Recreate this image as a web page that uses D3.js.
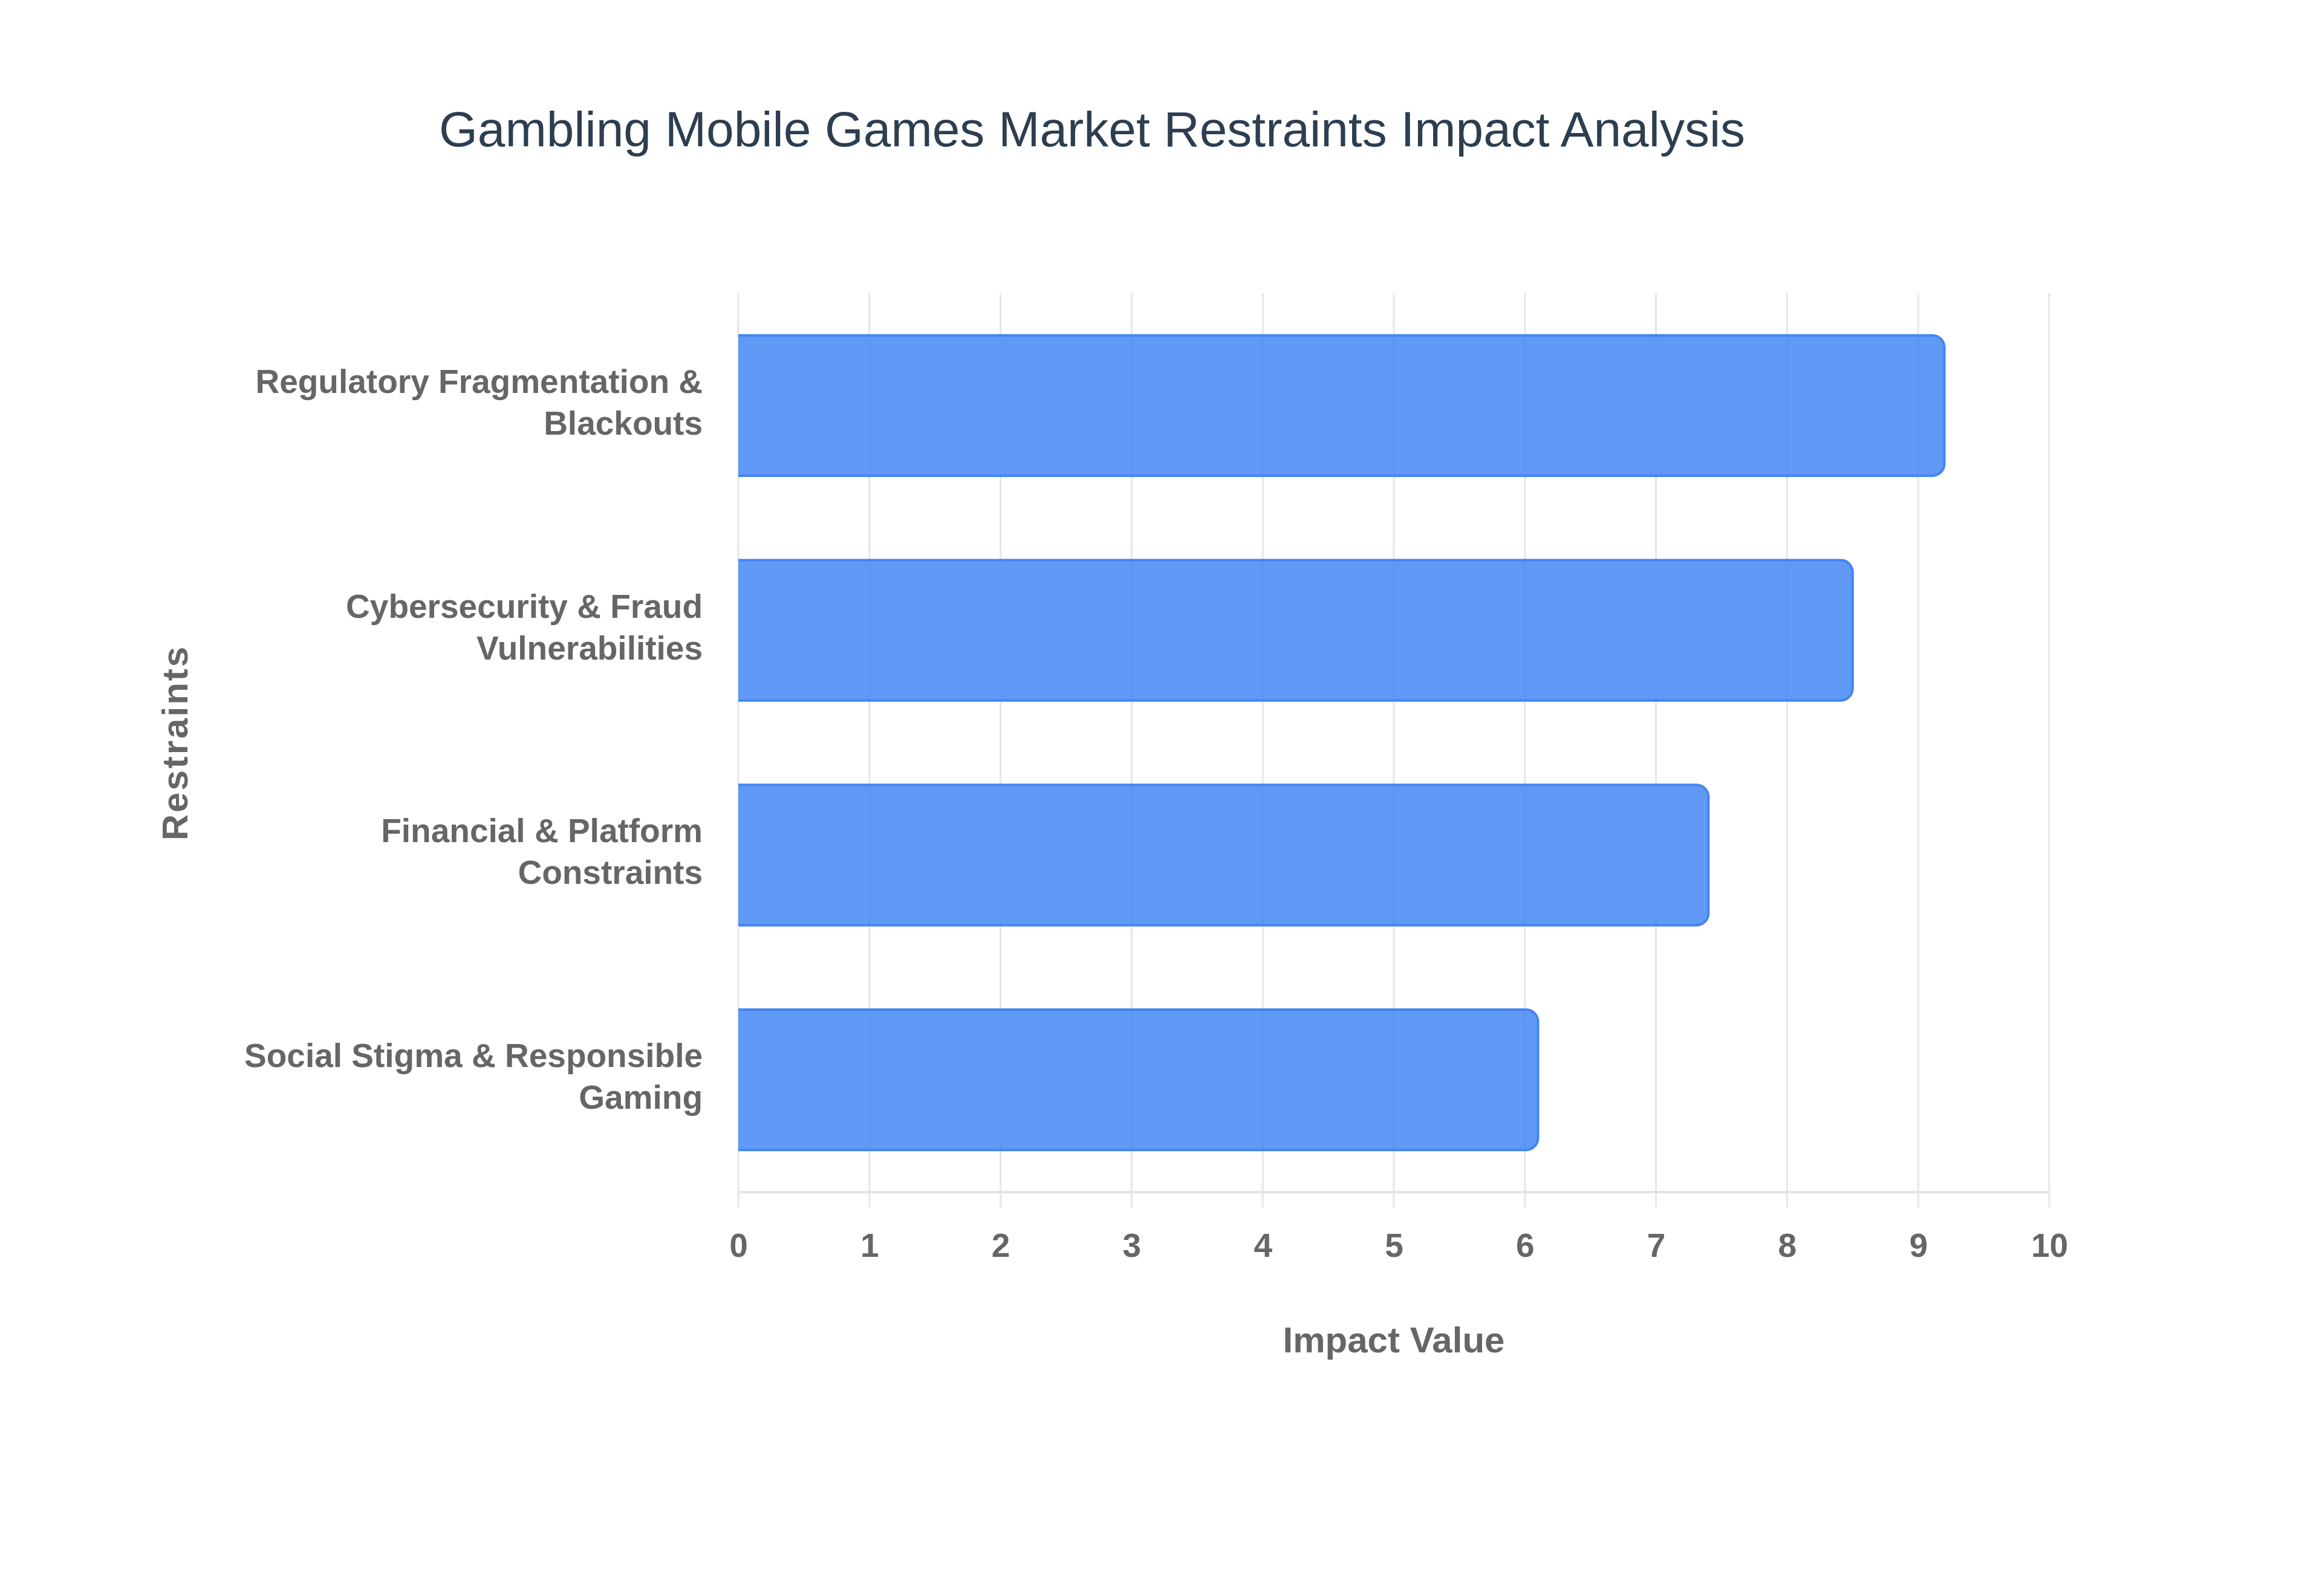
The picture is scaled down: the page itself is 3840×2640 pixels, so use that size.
<!DOCTYPE html>
<html>
<head>
<meta charset="utf-8">
<script src="https://cdn.jsdelivr.net/npm/d3@7"></script>
<style>
  html, body { margin: 0; padding: 0; background: #ffffff; }
  svg { display: block; }
</style>
</head>
<body>
<svg id="chart" width="3840" height="2640"></svg>
<script>
// ---- Data ----
const categories = [
  ["Regulatory Fragmentation &", "Blackouts"],
  ["Cybersecurity & Fraud", "Vulnerabilities"],
  ["Financial & Platform", "Constraints"],
  ["Social Stigma & Responsible", "Gaming"]
];
const categoryKeys = [
  "Regulatory Fragmentation & Blackouts",
  "Cybersecurity & Fraud Vulnerabilities",
  "Financial & Platform Constraints",
  "Social Stigma & Responsible Gaming"
];
const impactValues = [9.2, 8.5, 7.4, 6.1];
const xTicks = [0, 1, 2, 3, 4, 5, 6, 7, 8, 9, 10];
const titleText = "Gambling Mobile Games Market Restraints Impact Analysis";
const xAxisTitle = "Impact Value";
const yAxisTitle = "Restraints";

// ---- Layout ----
const W = 3840, H = 2640;
const plot = { left: 1221, right: 3389, top: 485, bottom: 1972 };

const svg = d3.select("#chart");
svg.append("rect").attr("width", W).attr("height", H).attr("fill", "#ffffff");

const x = d3.scaleLinear().domain([0, 10]).range([plot.left, plot.right]);
const y = d3.scaleBand().domain(categoryKeys).range([plot.top, plot.bottom])
  .paddingInner(0.375).paddingOuter(0.1875);

// Grid lines
const grid = svg.append("g");
grid.selectAll("line.grid")
  .data(xTicks)
  .join("line")
  .attr("class", "grid")
  .attr("x1", d => x(d)).attr("x2", d => x(d))
  .attr("y1", plot.top).attr("y2", plot.bottom + 25)
  .attr("stroke", "#e6e6e6")
  .attr("stroke-width", 3);

// Bottom axis line
svg.append("line")
  .attr("x1", plot.left).attr("x2", plot.right)
  .attr("y1", plot.bottom).attr("y2", plot.bottom)
  .attr("stroke", "#e3e3e3")
  .attr("stroke-width", 4);

// Tick labels via d3 axis
const xAxis = d3.axisBottom(x).tickValues(xTicks).tickSize(0).tickPadding(0).tickFormat(d3.format("d"));
const gx = svg.append("g").attr("transform", `translate(0,${plot.bottom})`).call(xAxis);
gx.select(".domain").remove();
gx.selectAll("text")
  .attr("y", 107)
  .attr("dy", null)
  .attr("fill", "#666666")
  .attr("font-family", "'Liberation Sans', Arial, sans-serif")
  .attr("font-weight", "bold")
  .attr("font-size", 55);

// Bars with rounded right corners
const r = 20;
function barPath(d, i) {
  const x0 = x(0), x1 = x(impactValues[i]);
  const y0 = y(categoryKeys[i]), y1 = y0 + y.bandwidth();
  const rr = Math.min(r, (x1 - x0) / 2);
  return `M${x0},${y0} L${x1 - rr},${y0} A${rr},${rr} 0 0 1 ${x1},${y0 + rr} ` +
         `L${x1},${y1 - rr} A${rr},${rr} 0 0 1 ${x1 - rr},${y1} L${x0},${y1}`;
}
svg.append("g").selectAll("path.bar")
  .data(impactValues)
  .join("path")
  .attr("class", "bar")
  .attr("d", (d, i) => barPath(d, i))
  .attr("fill", "#4285f4")
  .attr("fill-opacity", 0.84)
  .attr("stroke", "#4285f4")
  .attr("stroke-width", 4);

// Category labels
const labels = svg.append("g");
categories.forEach((lines, i) => {
  const cy = y(categoryKeys[i]) + y.bandwidth() / 2;
  const t = labels.append("text")
    .attr("text-anchor", "end")
    .attr("fill", "#666666")
    .attr("font-family", "'Liberation Sans', Arial, sans-serif")
    .attr("font-weight", "bold")
    .attr("font-size", 55);
  const lh = 69;
  const firstBaseline = cy - 21;
  lines.forEach((ln, k) => {
    t.append("tspan")
      .attr("x", plot.left - 59)
      .attr("y", firstBaseline + k * lh)
      .text(ln);
  });
});

// Title
svg.append("text")
  .attr("x", 726)
  .attr("y", 242)
  .attr("fill", "#2c3e50")
  .attr("font-family", "'Liberation Sans', Arial, sans-serif")
  .attr("font-size", 82)
  .text(titleText);

// X axis title
svg.append("text")
  .attr("x", (plot.left + plot.right) / 2)
  .attr("y", 2237)
  .attr("text-anchor", "middle")
  .attr("fill", "#666666")
  .attr("font-family", "'Liberation Sans', Arial, sans-serif")
  .attr("font-weight", "bold")
  .attr("font-size", 60)
  .text(xAxisTitle);

// Y axis title
svg.append("text")
  .attr("transform", `translate(310,${(plot.top + plot.bottom) / 2}) rotate(-90)`)
  .attr("text-anchor", "middle")
  .attr("fill", "#666666")
  .attr("font-family", "'Liberation Sans', Arial, sans-serif")
  .attr("font-weight", "bold")
  .attr("font-size", 60)
  .attr("letter-spacing", 3)
  .text(yAxisTitle);
</script>
</body>
</html>
